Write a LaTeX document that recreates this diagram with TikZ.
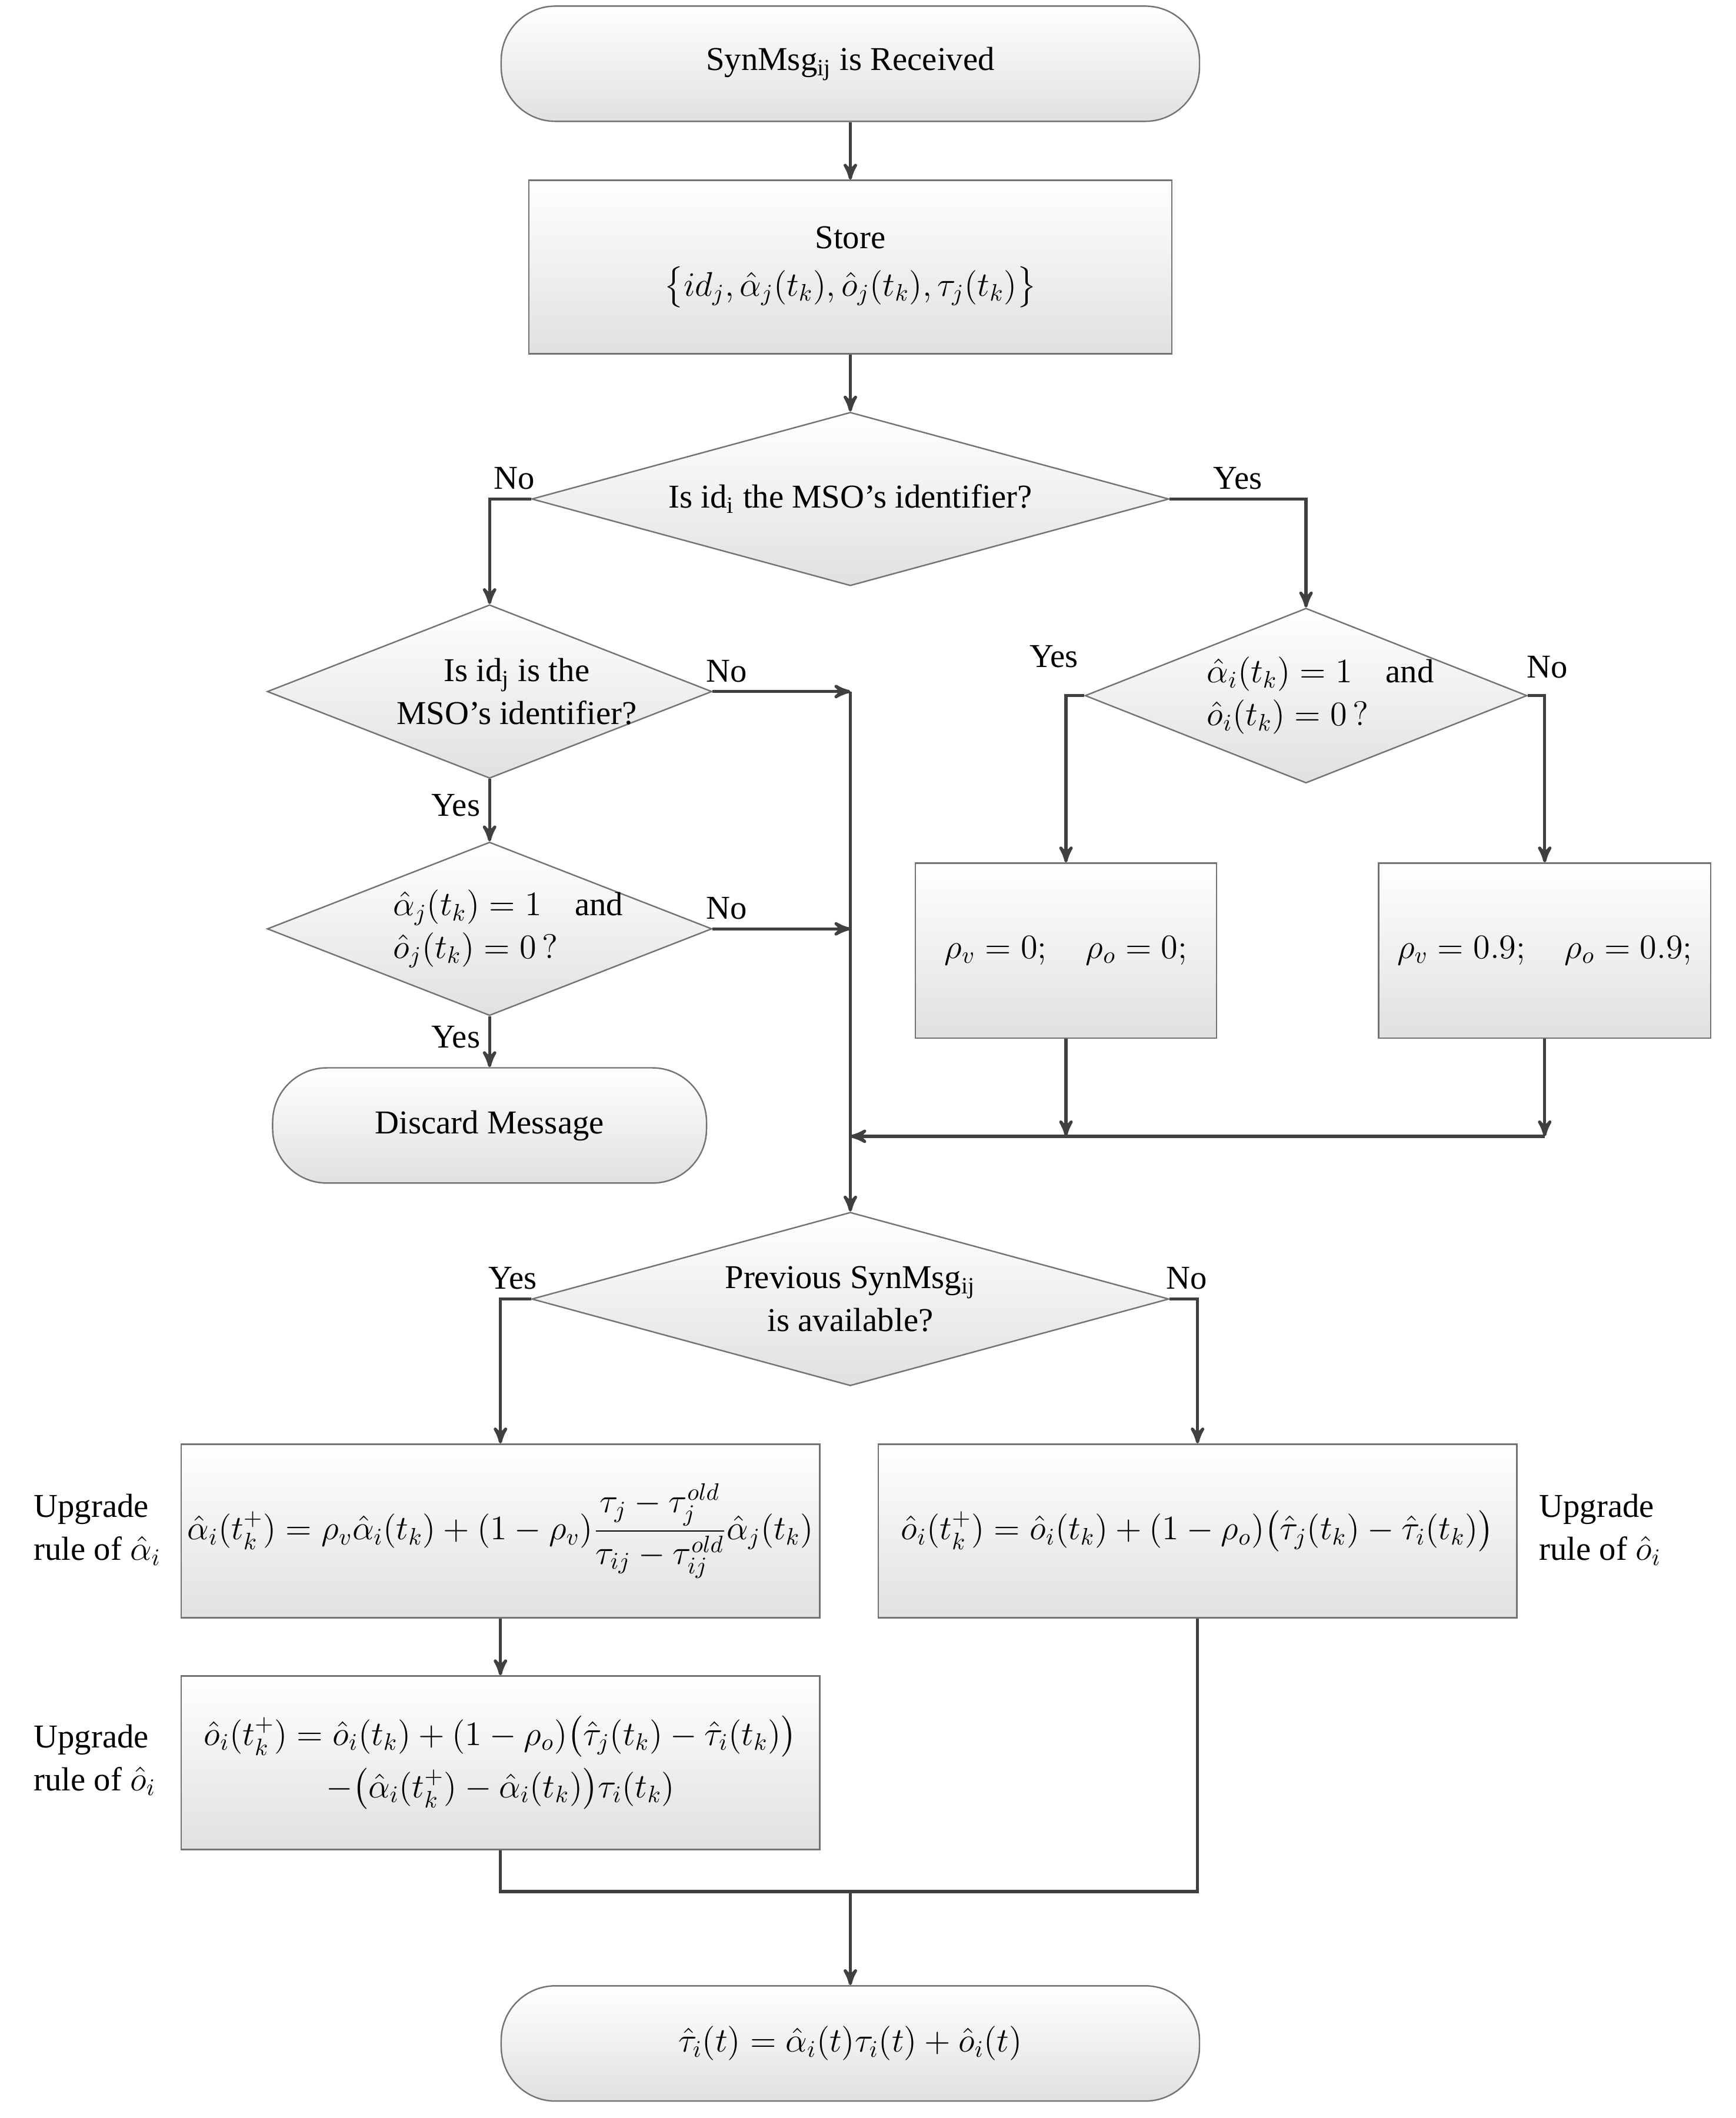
\documentclass[tikz,border=0pt]{standalone}
\usepackage{amsmath}
\usepackage{fontspec}
\setmainfont{Liberation Serif}
\usetikzlibrary{arrows,shapes.geometric}
\begin{document}
\begin{tikzpicture}[x=0.02cm,y=-0.02cm,->,>=stealth',
    line width=1.3pt,draw=black!75,font=\fontsize{14}{18}\selectfont,
    box/.style={rectangle,draw=black!55,line width=0.6pt,top color=white,bottom color=black!12,align=center,inner sep=0pt},
    term/.style={box,rounded corners=0.8cm},
    dec/.style={diamond,draw=black!55,line width=0.6pt,top color=white,bottom color=black!12,align=center,inner sep=0pt,text width=1pt},
    lab/.style={font=\fontsize{14}{18}\selectfont}]

  \useasboundingbox (0,0) rectangle (1280,1562);

  \node[term,minimum width=10.3cm,minimum height=1.7cm] (start) at (627,47) {SynMsg\textsubscript{ij} is Received};
  \node[box,minimum width=9.48cm,minimum height=2.56cm] (store) at (627,197) {Store\\[2pt] $\bigl\{id_j,\hat\alpha_j(t_k),\hat o_j(t_k),\tau_j(t_k)\bigr\}$};
  \node[dec,minimum width=9.4cm,minimum height=2.56cm] (isi) at (627,368) {};
  \node at (627,368) {Is id\textsubscript{i} the MSO's identifier?};
  \node[dec,minimum width=6.56cm,minimum height=2.56cm] (isj) at (361,510) {};
  \node[align=center] at (381,510) {Is id\textsubscript{j} is the\\MSO's identifier?};
  \node[dec,minimum width=6.56cm,minimum height=2.56cm] (chkj) at (361,685) {};
  \node[align=left,anchor=west] at (283,685) {$\hat\alpha_j(t_k)=1$\quad and\\ $\hat o_j(t_k)=0\,?$};
  \node[term,minimum width=6.4cm,minimum height=1.7cm] (discard) at (361,830) {Discard Message};
  \node[dec,minimum width=6.52cm,minimum height=2.58cm] (chki) at (963,513) {};
  \node[align=left,anchor=west] at (883,513) {$\hat\alpha_i(t_k)=1$\quad and\\ $\hat o_i(t_k)=0\,?$};
  \node[box,minimum width=4.44cm,minimum height=2.58cm] (rzero) at (786,701) {$\rho_v=0;\quad \rho_o=0;$};
  \node[box,minimum width=4.9cm,minimum height=2.58cm] (rnine) at (1139,701) {$\rho_v=0.9;\quad \rho_o=0.9;$};
  \node[dec,minimum width=9.4cm,minimum height=2.56cm] (prev) at (627,958) {};
  \node[align=center] at (627,958) {Previous SynMsg\textsubscript{ij}\\is available?};
  \node[box,minimum width=9.42cm,minimum height=2.56cm] (upa) at (369,1129) {$\hat\alpha_i(t_k^+)=\rho_v\hat\alpha_i(t_k)+(1-\rho_v)\dfrac{\tau_j-\tau_j^{old}}{\tau_{ij}-\tau_{ij}^{old}}\hat\alpha_j(t_k)$};
  \node[box,minimum width=9.42cm,minimum height=2.56cm] (upo) at (883,1129) {$\hat o_i(t_k^+)=\hat o_i(t_k)+(1-\rho_o)\bigl(\hat\tau_j(t_k)-\hat\tau_i(t_k)\bigr)$};
  \node[box,minimum width=9.42cm,minimum height=2.56cm] (upoo) at (369,1300) {$\hat o_i(t_k^+)=\hat o_i(t_k)+(1-\rho_o)\bigl(\hat\tau_j(t_k)-\hat\tau_i(t_k)\bigr)$\\[4pt] $-\bigl(\hat\alpha_i(t_k^+)-\hat\alpha_i(t_k)\bigr)\tau_i(t_k)$};
  \node[term,minimum width=10.3cm,minimum height=1.7cm] (finish) at (627,1507) {$\hat\tau_i(t)=\hat\alpha_i(t)\tau_i(t)+\hat o_i(t)$};

  % side labels
  \node[lab,align=left,anchor=west] at (18,1128) {Upgrade\\rule of $\hat\alpha_i$};
  \node[lab,align=left,anchor=west] at (1128,1128) {Upgrade\\rule of $\hat o_i$};
  \node[lab,align=left,anchor=west] at (18,1298) {Upgrade\\rule of $\hat o_i$};

  % branch labels
  \node[lab] (yesi) at (777,484) {Yes};
  \node[lab] (noi) at (1141,492) {No};

  % junction points
  \coordinate (j1) at (627,510);
  \coordinate (j2) at (627,685);
  \coordinate (j3) at (627,838);
  \coordinate (j4) at (627,1395);

  \draw (start) -- (store);
  \draw (store) -- (isi);
  \draw (isi.west) -| node[pos=0.2,above,lab] {No} (isj.north);
  \draw (isi.east) -| node[pos=0.25,above,lab] {Yes} (chki.north);
  \draw (isj.east) -- node[pos=0.1,above,lab] {No} (j1);
  \draw (isj.south) -- node[left,lab,yshift=2pt] {Yes} (chkj.north);
  \draw (chkj.east) -- node[pos=0.1,above,lab] {No} (j2);
  \draw (chkj.south) -- node[left,lab,yshift=2pt] {Yes} (discard.north);
  \draw (chki.west) -| (rzero.north);
  \draw (chki.east) -| (rnine.north);
  \draw (rzero.south) -- (rzero.south |- j3);
  \draw (rnine.south) -- (rnine.south |- j3);
  \draw (rnine.south |- j3) -- (j3);
  \draw[-] (j1) -- (j3);
  \draw (j3) -- (prev.north);
  \draw (prev.west) -| node[pos=0.3,above,lab] {Yes} (upa.north);
  \draw (prev.east) -| node[pos=0.3,above,lab] {No} (upo.north);
  \draw (upa) -- (upoo);
  \draw[-] (upoo.south) |- (j4);
  \draw[-] (upo.south) |- (j4);
  \draw (j4) -- (finish.north);
\end{tikzpicture}
\end{document}
